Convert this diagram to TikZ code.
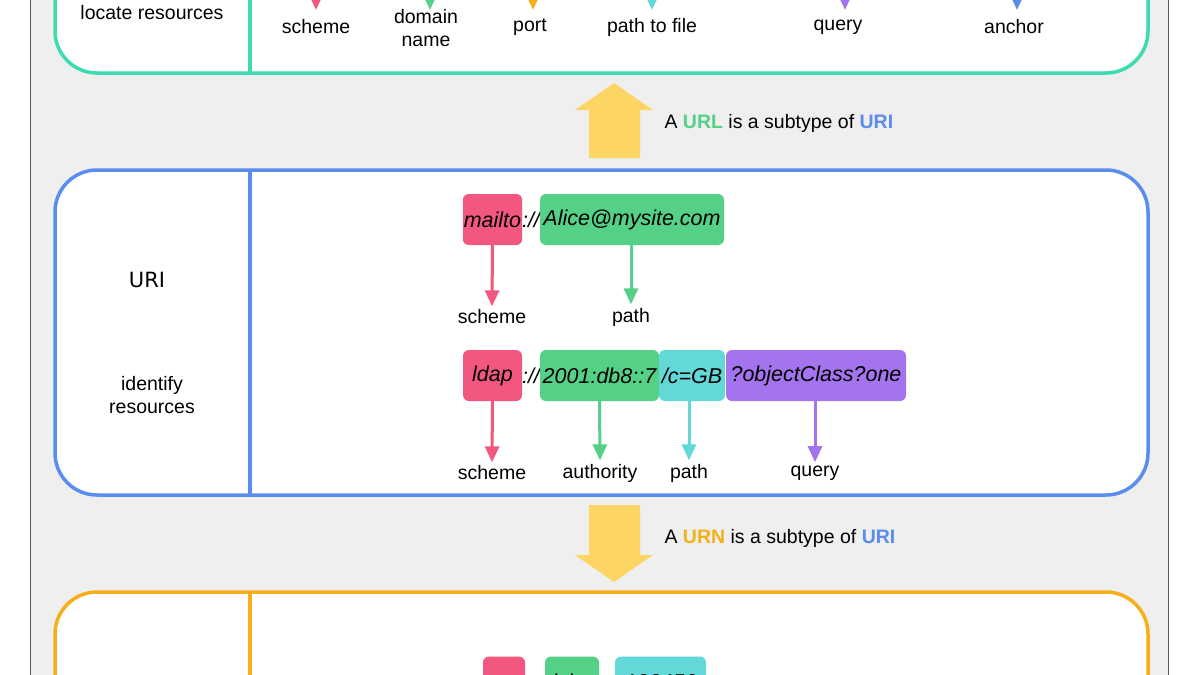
\documentclass[tikz,border=0pt]{standalone}
\usetikzlibrary{arrows.meta}
\usepackage{fontspec}
\setmainfont{Liberation Sans}
\newfontfamily\uriFont{DejaVu Sans}
\definecolor{cpink}{HTML}{F2577F}
\definecolor{cgreen}{HTML}{55D187}
\definecolor{ccyan}{HTML}{62D8D8}
\definecolor{cpurple}{HTML}{A374EE}
\definecolor{cyel}{HTML}{FDD565}
\definecolor{corange}{HTML}{F5B019}
\definecolor{cblue}{HTML}{5B8DEF}
\definecolor{cteal}{HTML}{3CDBB0}
\definecolor{cbg}{HTML}{EFEFEF}
\begin{document}
\begin{tikzpicture}[x=1pt,y=-1pt,
  lbl/.style={font=\fontsize{19.5}{23}\selectfont, align=center},
  blk/.style={rounded corners=6pt, draw=none, minimum height=51pt, font=\fontsize{21.5}{25}\selectfont\itshape, inner sep=1pt},
  frame/.style={line width=3.5pt, rounded corners=42pt, fill=white},
  arr/.style={line width=3pt, -{Triangle[length=16pt,width=14pt]}},
  fat/.style={fill=cyel, draw=none}]
\useasboundingbox (0,0) rectangle (1200,675);
\clip (0,0) rectangle (1200,675);
\fill[cbg] (30,-5) rectangle (1168,680);
\draw[gray!70!black, line width=0.8pt] (30,-5) -- (30,680) (1168,-5) -- (1168,680);
% top box
\draw[frame, draw=cteal] (55,-100) rectangle (1148,73);
\draw[cteal, line width=3.5pt] (250,-100) -- (250,73);
\node[lbl] (locate) at (152,13) {locate resources};
\foreach \x/\c/\n in {316/cpink/a1,430/cgreen/a2,533/corange/a3,652/ccyan/a4,845/cpurple/a5,1017/cblue/a6}{
  \coordinate (\n s) at (\x,-20);
  \coordinate (\n e) at (\x,10);
  \draw[arr, draw=\c, fill=\c] (\n s) -- (\n e);
}
\node[lbl] (t1) at (316,27) {scheme};
\node[lbl] (t2) at (426,28) {domain\\name};
\node[lbl] (t3) at (530,27) {port};
\node[lbl] (t4) at (652,27) {path to file};
\node[lbl] (t5) at (838,27) {query};
\node[lbl] (t6) at (1014,27) {anchor};
% up arrow
\fill[fat] (589,158) -- (640,158) -- (640,110) -- (653,110) -- (614,83) -- (575,110) -- (589,110) -- cycle;
\node[lbl, anchor=west] (urltxt) at (661,123) {A \textbf{\textcolor{cgreen}{URL}} is a subtype of \textbf{\textcolor{cblue}{URI}}};
% middle box
\draw[frame, draw=cblue] (55,170) rectangle (1148,495);
\draw[cblue, line width=3.5pt] (250,170) -- (250,495);
\node[lbl, font=\uriFont\fontsize{21}{24}\selectfont] (uri) at (147,280) {URI};
\node[lbl] (ident) at (152,395) {identify\\resources};
\node[blk, fill=cpink, minimum width=59pt] (mailto) at (492.5,219.5) {mailto};
\node[font=\fontsize{21.5}{25}\selectfont\itshape] (sep1) at (531,219.5) {://};
\node[blk, fill=cgreen, minimum width=184pt] (alice) at (632,219.5) {Alice@mysite.com};
\node[lbl] (s1) at (492,317) {scheme};
\node[lbl] (p1) at (631,317) {path};
\draw[arr, draw=cpink, fill=cpink] (mailto.south) -- (s1.north);
\draw[arr, draw=cgreen, fill=cgreen] (alice.south -| p1) -- (p1.north);
\node[blk, fill=cpink, minimum width=59pt] (ldap) at (492.5,375.5) {ldap};
\node[font=\fontsize{21.5}{25}\selectfont\itshape] (sep2) at (531,375.5) {://};
\node[blk, fill=cgreen, minimum width=119pt] (auth) at (599.5,375.5) {2001:db8::7};
\node[blk, fill=ccyan, minimum width=66pt] (cgb) at (692,375.5) {/c=GB};
\node[blk, fill=cpurple, minimum width=180pt] (qry) at (816,375.5) {?objectClass?one};
\node[lbl] (s2) at (492,473) {scheme};
\node[lbl] (au) at (600,473) {authority};
\node[lbl] (p2) at (689,473) {path};
\node[lbl] (q2) at (815,473) {query};
\draw[arr, draw=cpink, fill=cpink] (ldap.south) -- (s2.north);
\draw[arr, draw=cgreen, fill=cgreen] (auth.south) -- (au.north);
\draw[arr, draw=ccyan, fill=ccyan] (cgb.south -| p2) -- (p2.north);
\draw[arr, draw=cpurple, fill=cpurple] (qry.south -| q2) -- (q2.north);
% down arrow
\fill[fat] (589,505) -- (640,505) -- (640,555) -- (653,555) -- (614,582) -- (575,555) -- (589,555) -- cycle;
\node[lbl, anchor=west] (urntxt) at (661,538) {A \textbf{\textcolor{corange}{URN}} is a subtype of \textbf{\textcolor{cblue}{URI}}};
% bottom box
\draw[frame, draw=corange] (55,592) rectangle (1148,800);
\draw[corange, line width=3.5pt] (250,592) -- (250,800);
\node[blk, fill=cpink, minimum width=42pt] (urn) at (504,682) {urn};
\node[blk, fill=cgreen, minimum width=54pt] (isbn) at (572,682) {isbn};
\node[blk, fill=ccyan, minimum width=91pt] (num) at (660.5,682) {123456};
\end{tikzpicture}
\end{document}
